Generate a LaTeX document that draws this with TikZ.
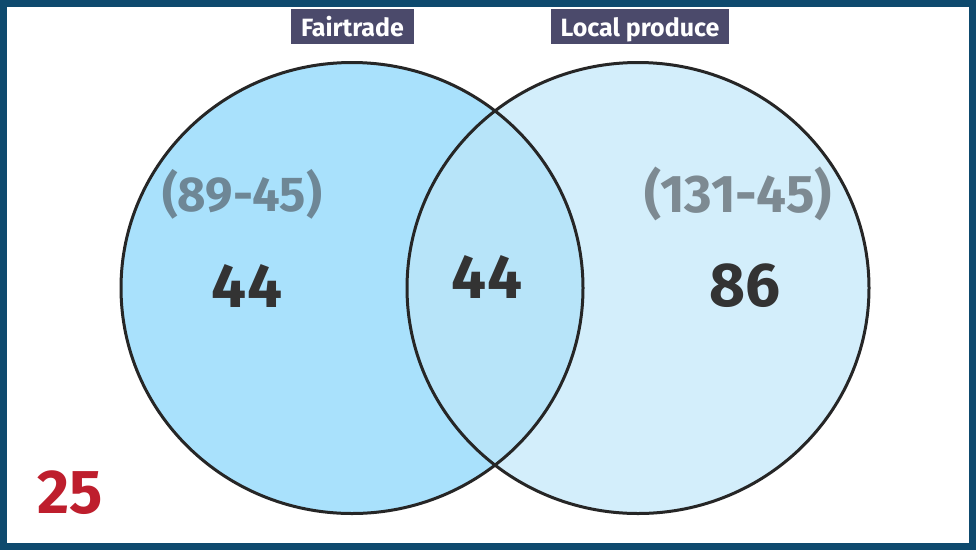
\documentclass[tikz,border=0pt]{standalone}
\usepackage{fontspec}
\setmainfont{Fira Sans}
\usetikzlibrary{positioning,shapes.geometric}
\definecolor{frameBlue}{RGB}{14,74,110}
\definecolor{labelSlate}{RGB}{75,74,107}
\definecolor{fairFill}{RGB}{169,225,252}
\definecolor{localFill}{RGB}{211,238,251}
\definecolor{bothFill}{RGB}{183,228,249}
\definecolor{calcGrey}{RGB}{110,135,150}
\definecolor{calcGreyR}{RGB}{125,138,146}
\definecolor{numDark}{RGB}{51,51,51}
\definecolor{qRed}{RGB}{190,30,45}

\begin{document}
\begin{tikzpicture}[x=1pt, y=-1pt,
    setshape/.style={draw=black!85, line width=3pt, ellipse, minimum width=462pt, minimum height=451pt, inner sep=0pt},
    setlabel/.style={fill=labelSlate, text=white, font=\fontsize{25}{25}\selectfont\bfseries, minimum height=35pt, inner sep=0pt, text height=21pt, text depth=2pt},
    calc/.style={font=\fontsize{49}{49}\selectfont\bfseries},
    count/.style={text=numDark, font=\fontsize{62}{62}\selectfont\bfseries},
]
\useasboundingbox (0,0) rectangle (976,550);
\fill[white] (0,0) rectangle (976,550);

% the two sets
\fill[fairFill] (352,288) ellipse [x radius=231, y radius=225.5];
\fill[localFill] (638,288) ellipse [x radius=231, y radius=225.5];
\begin{scope}
  \clip (352,288) ellipse [x radius=231, y radius=225.5];
  \fill[bothFill] (638,288) ellipse [x radius=231, y radius=225.5];
\end{scope}
\node[setshape] (fair) at (352,288) {};
\node[setshape] (local) at (638,288) {};

% headings
\node[setlabel, minimum width=123pt] (fairlab) at (352.5,26.5) {Fairtrade};
\node[setlabel, minimum width=178pt] (locallab) at (640,26.5) {Local produce};

% region values
\node[calc, text=calcGrey] (faircalc) at (242,194) {(89-45)};
\node[count] (faironly) at (247,286) {44};
\node[count] (both) at (487,277) {44};
\node[calc, text=calcGreyR, font=\fontsize{53}{53}\selectfont\bfseries] (localcalc) at (738,194) {(131-45)};
\node[count] (localonly) at (745,286) {86};

% outside both
\node[count, text=qRed, font=\fontsize{62}{62}\selectfont\bfseries] (neither) at (70,493) {25};

% frame
\draw[frameBlue, line width=7pt] (3.5,3.5) rectangle (972.5,546.5);
\end{tikzpicture}
\end{document}
